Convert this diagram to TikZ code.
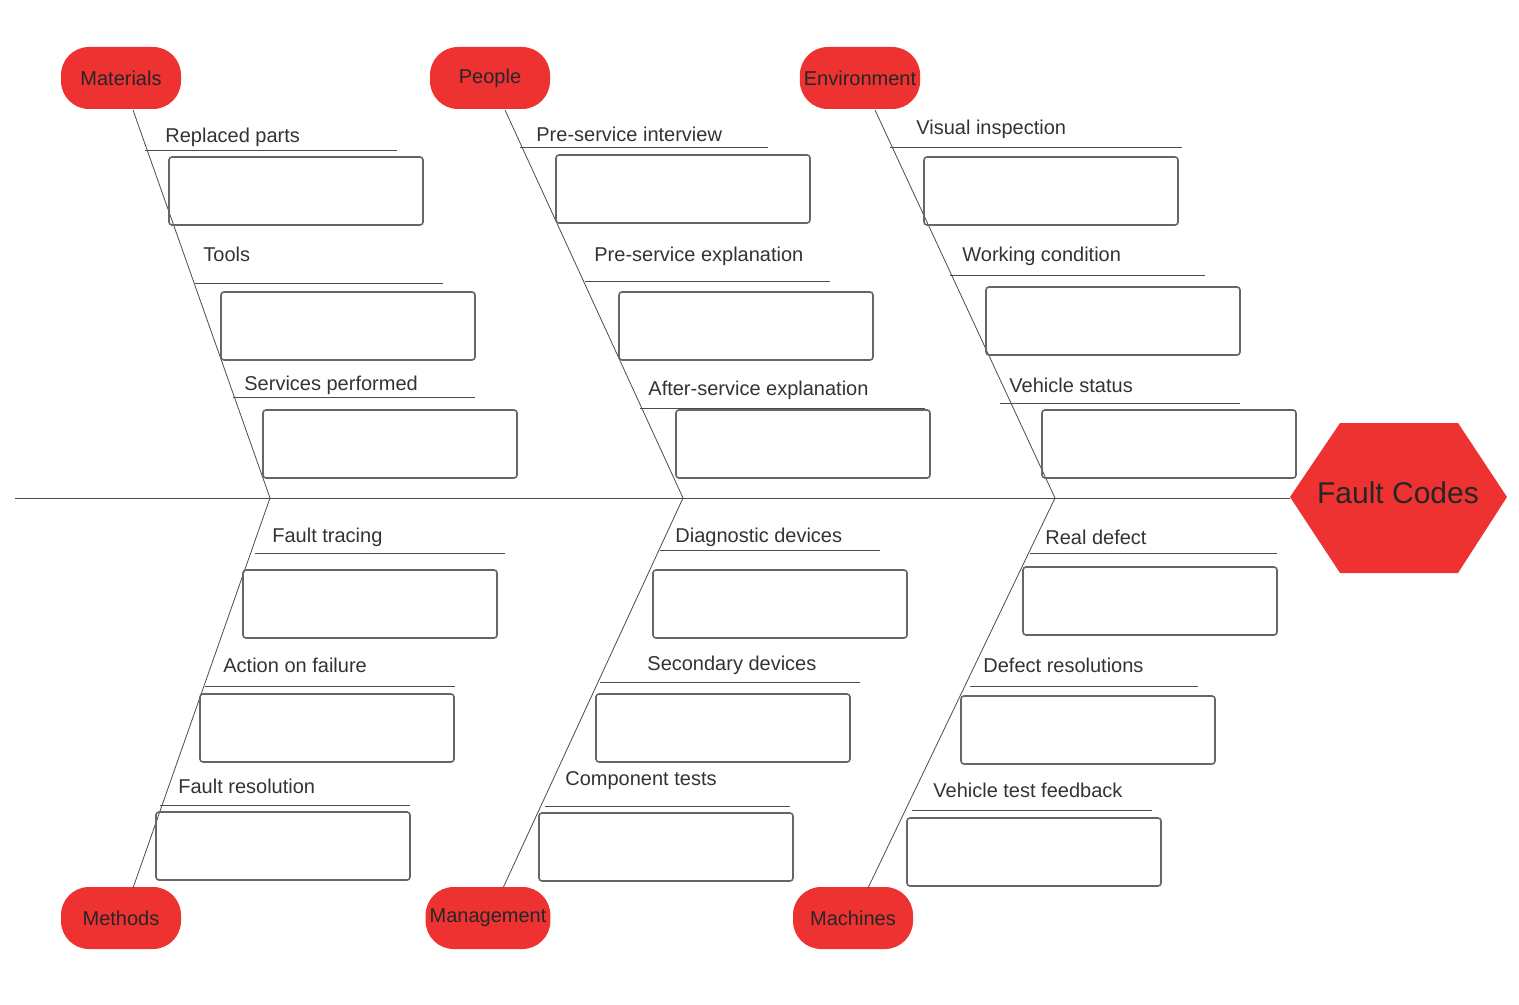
\documentclass[tikz,border=0pt]{standalone}
\usepackage{fontspec}
\setmainfont{Liberation Sans}
\usetikzlibrary{positioning}
\definecolor{catred}{RGB}{238,50,50}
\tikzset{cat/.style={fill=catred, rounded corners=14pt, minimum width=60pt, minimum height=31pt, inner sep=2pt, font=\fontsize{10}{12}\selectfont, text=black!85},
  lbl/.style={anchor=west, inner sep=0pt, font=\fontsize{10}{12}\selectfont, text=black!80},
  cbox/.style={draw=black!60, rounded corners=1.5pt, thick, minimum width=127pt, minimum height=34pt, inner sep=0pt},
  bone/.style={draw=black!70, thin},
  rib/.style={draw=black!70, thin}}
\begin{document}
\begin{tikzpicture}[x=0.5pt,y=-0.5pt]
\useasboundingbox (0,0) rectangle (1519,1005);
% spine and head
\fill[catred] (1290,497) -- (1340,423) -- (1458,423) -- (1507,497) -- (1458,573) -- (1340,573) -- cycle;
\node[font=\fontsize{15}{18}\selectfont, text=black!85] (head) at (1398,493) {Fault Codes};
\coordinate (tail) at (15,498);
\coordinate (neck) at (1290,498);
\draw[bone] (tail) -- (neck);
% categories
\node[cat] (mat) at (121,78) {Materials};
\node[cat] (peo) at (490,78) {People};
\node[cat] (env) at (860,78) {Environment};
\node[cat] (met) at (121,918) {Methods};
\node[cat] (man) at (488,918) {Management};
\node[cat] (mac) at (853,918) {Machines};
\coordinate (j1) at (270,498);
\coordinate (j2) at (683,498);
\coordinate (j3) at (1055,498);
\draw[bone] (133,110) -- (j1) -- (133,888);
\draw[bone] (505,110) -- (j2) -- (503,888);
\draw[bone] (875,110) -- (j3) -- (868,888);
% ribs: text, line, box
\foreach \t/\tx/\ty/\la/\lb/\ly/\bx/\by in {
  Replaced parts/165/137/145/397/150/296/191,
  Tools/203/254/195/443/283/348/326,
  Services performed/244/385/233/475/397/390/444,
  Pre-service interview/536/134/520/768/147/683/189,
  Pre-service explanation/594/256/585/830/281/746/326,
  After-service explanation/648/390/640/925/408/803/444,
  Visual inspection/916/129/890/1182/147/1051/191,
  Working condition/962/256/950/1205/275/1113/321,
  Vehicle status/1009/385/1000/1240/403/1169/444,
  Fault tracing/272/537/255/505/553/370/604,
  Action on failure/223/665/205/455/686/327/728,
  Fault resolution/178/786/160/410/805/283/846,
  Diagnostic devices/675/537/660/880/550/780/604,
  Secondary devices/647/665/600/860/682/723/728,
  Component tests/565/781/545/790/806/666/847,
  Real defect/1045/537/1030/1277/553/1150/601,
  Defect resolutions/983/665/970/1198/686/1088/730,
  Vehicle test feedback/933/790/912/1152/810/1034/852}
{
  \node[lbl] (t) at (\tx,\ty) {\t};
  \coordinate (ra) at (\la,\ly);
  \coordinate (rb) at (\lb,\ly);
  \draw[rib] (ra) -- (rb);
  \node[cbox] (b) at (\bx,\by) {};
}
\end{tikzpicture}
\end{document}
